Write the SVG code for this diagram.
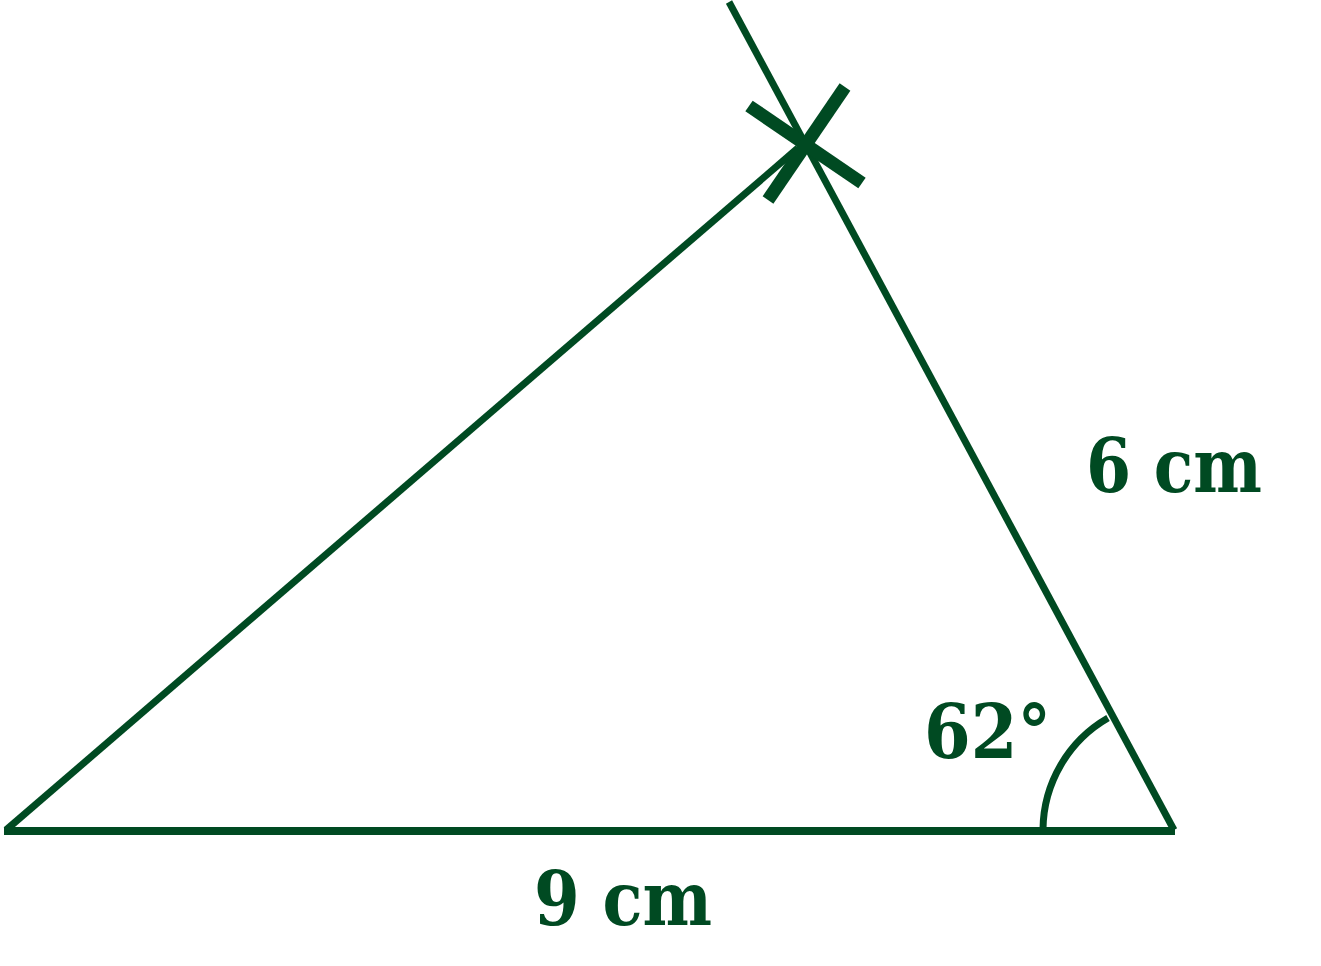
<svg xmlns="http://www.w3.org/2000/svg" width="1321" height="966" viewBox="0 0 1321 966">
<style>
.ln{stroke:#004A22;fill:none;stroke-linecap:butt}
.lbl{font-family:"DejaVu Serif",serif;font-weight:bold;fill:#004A22;font-size:74px}
</style>
<rect width="1321" height="966" fill="#fff"/>
<g id="connectors">
<line class="ln" x1="4" y1="831" x2="1175" y2="831" stroke-width="8"/>
<line class="ln" x1="6" y1="830" x2="798" y2="148" stroke-width="7"/>
<line class="ln" x1="729" y1="2" x2="1174" y2="830" stroke-width="7"/>
<path class="ln" d="M1043,829 A130,130 0 0 1 1108,718" stroke-width="7"/>
<line class="ln" x1="749" y1="106" x2="862" y2="183" stroke-width="13"/>
<line class="ln" x1="845" y1="87" x2="768" y2="200" stroke-width="13"/>
</g>
<g id="label-6cm"><text class="lbl" x="1086" y="492" textLength="176" lengthAdjust="spacingAndGlyphs">6 cm</text></g>
<g id="label-9cm"><text class="lbl" x="534" y="925" textLength="178" lengthAdjust="spacingAndGlyphs">9 cm</text></g>
<g id="label-angle"><text class="lbl" x="924" y="758" textLength="127" lengthAdjust="spacingAndGlyphs">62°</text></g>
</svg>
